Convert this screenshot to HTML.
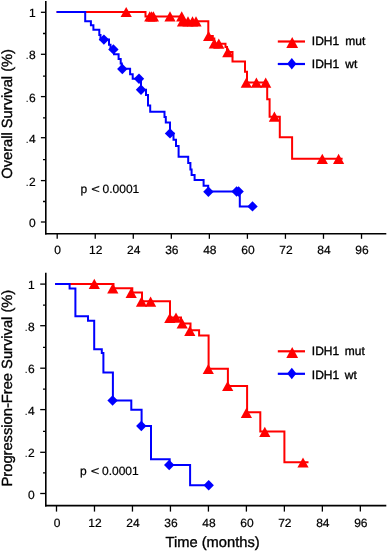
<!DOCTYPE html>
<html><head><meta charset="utf-8"><title>Kaplan-Meier survival curves by IDH1 status</title>
<style>
html,body{margin:0;padding:0;background:#fff;}
body{width:387px;height:552px;overflow:hidden;}
svg{display:block;}
.t{font-family:'Liberation Sans', Arial, Helvetica, sans-serif;font-size:12px;fill:#000;stroke:#000;stroke-width:0.22px;text-rendering:geometricPrecision;}
.d{stroke:none;fill:#222;}
.g{stroke-width:0.35px;}
.l{font-family:'Liberation Sans', Arial, Helvetica, sans-serif;font-size:14.7px;fill:#000;stroke:#000;stroke-width:0.35px;text-rendering:geometricPrecision;}
</style></head><body>
<svg width="387" height="552" viewBox="0 0 387 552">
<rect width="387" height="552" fill="#fff"/>
<path d="M45.8,0.9V234.6" stroke="#000" stroke-width="1.6" fill="none"/>
<path d="M45,233.8H386.3" stroke="#000" stroke-width="1.6" fill="none"/>
<path d="M40.9,222H45" stroke="#000" stroke-width="1.3"/>
<text x="35.6" y="227" text-anchor="end" class="t">0</text>
<path d="M43,201.5H45" stroke="#000" stroke-width="1.3"/>
<path d="M40.9,180.6H45" stroke="#000" stroke-width="1.3"/>
<text x="35.6" y="185.6" text-anchor="end" class="t"><tspan class="d">.</tspan>2</text>
<path d="M43,159.7H45" stroke="#000" stroke-width="1.3"/>
<path d="M40.9,137.7H45" stroke="#000" stroke-width="1.3"/>
<text x="35.6" y="142.7" text-anchor="end" class="t"><tspan class="d">.</tspan>4</text>
<path d="M43,117.9H45" stroke="#000" stroke-width="1.3"/>
<path d="M40.9,96.6H45" stroke="#000" stroke-width="1.3"/>
<text x="35.6" y="101.6" text-anchor="end" class="t"><tspan class="d">.</tspan>6</text>
<path d="M43,76.1H45" stroke="#000" stroke-width="1.3"/>
<path d="M40.9,54.3H45" stroke="#000" stroke-width="1.3"/>
<text x="35.6" y="59.3" text-anchor="end" class="t"><tspan class="d">.</tspan>8</text>
<path d="M43,33.5H45" stroke="#000" stroke-width="1.3"/>
<path d="M40.9,12.3H45" stroke="#000" stroke-width="1.3"/>
<text x="35.6" y="17.3" text-anchor="end" class="t">1</text>
<path d="M57.2,233.8V238.8" stroke="#000" stroke-width="1.3"/>
<text x="57.7" y="254.4" text-anchor="middle" class="t">0</text>
<path d="M95.24,233.8V238.8" stroke="#000" stroke-width="1.3"/>
<text x="95.74" y="254.4" text-anchor="middle" class="t">12</text>
<path d="M133.28,233.8V238.8" stroke="#000" stroke-width="1.3"/>
<text x="133.78" y="254.4" text-anchor="middle" class="t">24</text>
<path d="M171.32,233.8V238.8" stroke="#000" stroke-width="1.3"/>
<text x="171.82" y="254.4" text-anchor="middle" class="t">36</text>
<path d="M209.36,233.8V238.8" stroke="#000" stroke-width="1.3"/>
<text x="209.86" y="254.4" text-anchor="middle" class="t">48</text>
<path d="M247.4,233.8V238.8" stroke="#000" stroke-width="1.3"/>
<text x="247.9" y="254.4" text-anchor="middle" class="t">60</text>
<path d="M285.44,233.8V238.8" stroke="#000" stroke-width="1.3"/>
<text x="285.94" y="254.4" text-anchor="middle" class="t">72</text>
<path d="M323.48,233.8V238.8" stroke="#000" stroke-width="1.3"/>
<text x="323.98" y="254.4" text-anchor="middle" class="t">84</text>
<path d="M361.52,233.8V238.8" stroke="#000" stroke-width="1.3"/>
<text x="362.02" y="254.4" text-anchor="middle" class="t">96</text>
<text transform="translate(12.1,113.9) rotate(-90)" text-anchor="middle" class="l">Overall Survival (%)</text>
<path d="M56.6,12H145.5V16.4H181.5V21.3H208.3V36H212.8V38.5H214.3V43.8H225.5V47H227V52H232.5V61.6H245V71.7H247V82.6H267.2V99.3H269.6V116.7H279.8V137.2H292.1V158.8H342.6" stroke="#ff0000" stroke-width="2" fill="none"/>
<path d="M126.2,6.9L131.8,17.1L120.6,17.1Z" fill="#ff0000"/>
<path d="M149.8,11.3L155.4,21.5L144.2,21.5Z" fill="#ff0000"/>
<path d="M151.6,11.3L157.2,21.5L146,21.5Z" fill="#ff0000"/>
<path d="M153.4,11.3L159,21.5L147.8,21.5Z" fill="#ff0000"/>
<path d="M170,11.3L175.6,21.5L164.4,21.5Z" fill="#ff0000"/>
<path d="M181.7,11.3L187.3,21.5L176.1,21.5Z" fill="#ff0000"/>
<path d="M182.5,16.2L188.1,26.4L176.9,26.4Z" fill="#ff0000"/>
<path d="M188,16.2L193.6,26.4L182.4,26.4Z" fill="#ff0000"/>
<path d="M192.5,16.2L198.1,26.4L186.9,26.4Z" fill="#ff0000"/>
<path d="M196,16.2L201.6,26.4L190.4,26.4Z" fill="#ff0000"/>
<path d="M208.6,30.9L214.2,41.1L203,41.1Z" fill="#ff0000"/>
<path d="M214.3,38.3L219.9,48.5L208.7,48.5Z" fill="#ff0000"/>
<path d="M218.8,38.5L224.4,48.7L213.2,48.7Z" fill="#ff0000"/>
<path d="M227.8,47.1L233.4,57.3L222.2,57.3Z" fill="#ff0000"/>
<path d="M246.3,77.5L251.9,87.7L240.7,87.7Z" fill="#ff0000"/>
<path d="M256.4,77.5L262,87.7L250.8,87.7Z" fill="#ff0000"/>
<path d="M265.7,77.5L271.3,87.7L260.1,87.7Z" fill="#ff0000"/>
<path d="M274.4,111.6L280,121.8L268.8,121.8Z" fill="#ff0000"/>
<path d="M322.3,153.7L327.9,163.9L316.7,163.9Z" fill="#ff0000"/>
<path d="M338.6,153.7L344.2,163.9L333,163.9Z" fill="#ff0000"/>
<path d="M56.6,12.1H85.2V21.3H90.9V25.2H93.4V29.8H99.3V35H100.5V39.6H109V44.7H110.5V49.3H114V54.3H118.6V59H120.7V63.5H121.8V68.7H130.1V74.2H132.7V78.7H141V89.8H146V95H148V105.5H150.2V111.7H164.5V117.1H165.8V122.6H170V133.4H173.5V139.8H176V146H178.6V156.8H188.2V163H190.4V169.4H191.6V175H194.6V180H203.6V185.8H208.2V191.5H239.8V206.4H252.5" stroke="#0000ff" stroke-width="2" fill="none"/>
<path d="M103.9,34.4L109.1,39.6L103.9,44.8L98.7,39.6Z" fill="#0000ff"/>
<path d="M113.4,44.2L118.6,49.4L113.4,54.6L108.2,49.4Z" fill="#0000ff"/>
<path d="M122.3,63.8L127.5,69L122.3,74.2L117.1,69Z" fill="#0000ff"/>
<path d="M139,73.5L144.2,78.7L139,83.9L133.8,78.7Z" fill="#0000ff"/>
<path d="M141,84.6L146.2,89.8L141,95L135.8,89.8Z" fill="#0000ff"/>
<path d="M170,128.2L175.2,133.4L170,138.6L164.8,133.4Z" fill="#0000ff"/>
<path d="M208.4,186.5L213.6,191.7L208.4,196.9L203.2,191.7Z" fill="#0000ff"/>
<path d="M236.6,186.3L241.8,191.5L236.6,196.7L231.4,191.5Z" fill="#0000ff"/>
<path d="M238.6,186.3L243.8,191.5L238.6,196.7L233.4,191.5Z" fill="#0000ff"/>
<path d="M252.5,201.2L257.7,206.4L252.5,211.6L247.3,206.4Z" fill="#0000ff"/>
<path d="M277.8,41.5H305" stroke="#ff0000" stroke-width="2.2"/>
<path d="M292.2,37.1L298.1,48.1L286.3,48.1Z" fill="#ff0000"/>
<text x="311.8" y="44.9" class="t g" word-spacing="2.9">IDH1 mut</text>
<path d="M277.8,64H305" stroke="#0000ff" stroke-width="2.2"/>
<path d="M291.8,58L296.4,63.7L291.8,69.4L287.2,63.7Z" fill="#0000ff"/>
<text x="311.8" y="68" class="t g" word-spacing="2.9">IDH1 wt</text>
<text x="80.6" y="192.6" class="t">p</text>
<text transform="translate(95.6,192.6) scale(1.22,1)" x="0" y="0" text-anchor="middle" class="t">&lt;</text>
<text x="102.6" y="192.6" class="t">0.0001</text>
<path d="M45.8,272.8V506.4" stroke="#000" stroke-width="1.6" fill="none"/>
<path d="M45,505.6H386.3" stroke="#000" stroke-width="1.6" fill="none"/>
<path d="M40.2,493.5H45" stroke="#000" stroke-width="1.3"/>
<text x="34.6" y="498.5" text-anchor="end" class="t">0</text>
<path d="M43,472.8H45" stroke="#000" stroke-width="1.3"/>
<path d="M40.2,452.3H45" stroke="#000" stroke-width="1.3"/>
<text x="34.6" y="457.3" text-anchor="end" class="t"><tspan class="d">.</tspan>2</text>
<path d="M43,431.4H45" stroke="#000" stroke-width="1.3"/>
<path d="M40.2,409.6H45" stroke="#000" stroke-width="1.3"/>
<text x="34.6" y="414.6" text-anchor="end" class="t"><tspan class="d">.</tspan>4</text>
<path d="M43,389.2H45" stroke="#000" stroke-width="1.3"/>
<path d="M40.2,368.2H45" stroke="#000" stroke-width="1.3"/>
<text x="34.6" y="373.2" text-anchor="end" class="t"><tspan class="d">.</tspan>6</text>
<path d="M43,347.4H45" stroke="#000" stroke-width="1.3"/>
<path d="M40.2,325.7H45" stroke="#000" stroke-width="1.3"/>
<text x="34.6" y="330.7" text-anchor="end" class="t"><tspan class="d">.</tspan>8</text>
<path d="M43,305.2H45" stroke="#000" stroke-width="1.3"/>
<path d="M40.2,284.1H45" stroke="#000" stroke-width="1.3"/>
<text x="34.6" y="289.1" text-anchor="end" class="t">1</text>
<path d="M56.5,505.6V511.6" stroke="#000" stroke-width="1.3"/>
<text x="57" y="527.1" text-anchor="middle" class="t">0</text>
<path d="M94.48,505.6V511.6" stroke="#000" stroke-width="1.3"/>
<text x="94.98" y="527.1" text-anchor="middle" class="t">12</text>
<path d="M132.46,505.6V511.6" stroke="#000" stroke-width="1.3"/>
<text x="132.96" y="527.1" text-anchor="middle" class="t">24</text>
<path d="M170.44,505.6V511.6" stroke="#000" stroke-width="1.3"/>
<text x="170.94" y="527.1" text-anchor="middle" class="t">36</text>
<path d="M208.42,505.6V511.6" stroke="#000" stroke-width="1.3"/>
<text x="208.92" y="527.1" text-anchor="middle" class="t">48</text>
<path d="M246.4,505.6V511.6" stroke="#000" stroke-width="1.3"/>
<text x="246.9" y="527.1" text-anchor="middle" class="t">60</text>
<path d="M284.38,505.6V511.6" stroke="#000" stroke-width="1.3"/>
<text x="284.88" y="527.1" text-anchor="middle" class="t">72</text>
<path d="M322.36,505.6V511.6" stroke="#000" stroke-width="1.3"/>
<text x="322.86" y="527.1" text-anchor="middle" class="t">84</text>
<path d="M360.34,505.6V511.6" stroke="#000" stroke-width="1.3"/>
<text x="360.84" y="527.1" text-anchor="middle" class="t">96</text>
<text transform="translate(12.1,388.1) rotate(-90)" text-anchor="middle" class="l">Progression-Free Survival (%)</text>
<path d="M55.1,284H113.5V288.2H132.3V292.5H142V301.2H170V317.5H181V323.5H190.5V330.3H199.1V335.6H208.6V368.8H227.9V385.9H247.1V412.3H260.3V431.5H284.4V462.3H308.5" stroke="#ff0000" stroke-width="2" fill="none"/>
<path d="M94.3,278.7L99.9,288.9L88.7,288.9Z" fill="#ff0000"/>
<path d="M112.8,283.3L118.4,293.5L107.2,293.5Z" fill="#ff0000"/>
<path d="M131.2,287.7L136.8,297.9L125.6,297.9Z" fill="#ff0000"/>
<path d="M141.5,296.5L147.1,306.7L135.9,306.7Z" fill="#ff0000"/>
<path d="M150.6,296.5L156.2,306.7L145,306.7Z" fill="#ff0000"/>
<path d="M169.8,312.9L175.4,323.1L164.2,323.1Z" fill="#ff0000"/>
<path d="M176,312.5L181.6,322.7L170.4,322.7Z" fill="#ff0000"/>
<path d="M182.2,318.4L187.8,328.6L176.6,328.6Z" fill="#ff0000"/>
<path d="M189.8,325.7L195.4,335.9L184.2,335.9Z" fill="#ff0000"/>
<path d="M208.3,363.9L213.9,374.1L202.7,374.1Z" fill="#ff0000"/>
<path d="M227.7,380.9L233.3,391.1L222.1,391.1Z" fill="#ff0000"/>
<path d="M246.4,407.7L252,417.9L240.8,417.9Z" fill="#ff0000"/>
<path d="M264.8,426.7L270.4,436.9L259.2,436.9Z" fill="#ff0000"/>
<path d="M303,457.4L308.6,467.6L297.4,467.6Z" fill="#ff0000"/>
<path d="M55.1,284H69.6V288.5H75.4V316.3H88V320.8H94.2V349.3H101.8V353H103.4V372.6H112.9V400.5H131.3V409.8H141.6V426H151V459.3H169.7V464.9H190.1V485.3H208.7" stroke="#0000ff" stroke-width="2" fill="none"/>
<path d="M112.6,395.3L117.8,400.5L112.6,405.7L107.4,400.5Z" fill="#0000ff"/>
<path d="M141.3,420.8L146.5,426L141.3,431.2L136.1,426Z" fill="#0000ff"/>
<path d="M169.2,459.8L174.4,465L169.2,470.2L164,465Z" fill="#0000ff"/>
<path d="M208.7,480.1L213.9,485.3L208.7,490.5L203.5,485.3Z" fill="#0000ff"/>
<path d="M277.8,351.3H305" stroke="#ff0000" stroke-width="2.2"/>
<path d="M292.2,346.9L298.1,357.9L286.3,357.9Z" fill="#ff0000"/>
<text x="311.8" y="354.7" class="t g" word-spacing="2.3">IDH1 mut</text>
<path d="M277.8,373.8H305" stroke="#0000ff" stroke-width="2.2"/>
<path d="M291.8,367.8L296.4,373.5L291.8,379.2L287.2,373.5Z" fill="#0000ff"/>
<text x="311.8" y="378.6" class="t g" word-spacing="2.3">IDH1 wt</text>
<text x="80" y="474.9" class="t">p</text>
<text transform="translate(95,474.9) scale(1.22,1)" x="0" y="0" text-anchor="middle" class="t">&lt;</text>
<text x="102" y="474.9" class="t">0.0001</text>
<text x="212.6" y="547" text-anchor="middle" class="l">Time (months)</text>
</svg>
</body></html>
